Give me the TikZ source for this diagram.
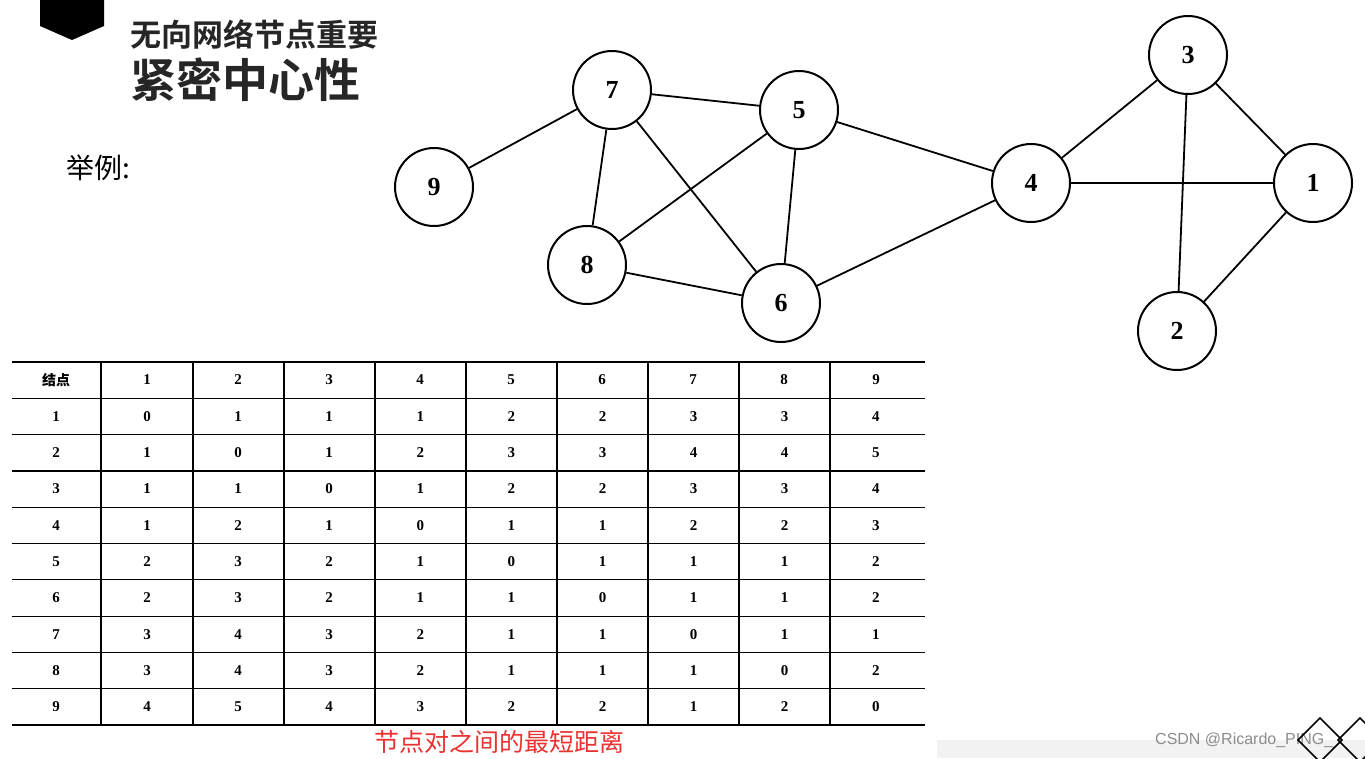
\documentclass[tikz,border=0pt]{standalone}
\usepackage{fontspec}
\setmainfont{Liberation Serif}
\newfontfamily\cjk{Noto Sans CJK SC}
\newfontfamily\cjkb{Noto Sans CJK SC Bold}
\newfontfamily\lsans{Liberation Sans}
\begin{document}
\begin{tikzpicture}[x=1pt,y=-1pt,
  vtx/.style={circle,draw,line width=2pt,minimum size=78pt,inner sep=0pt,font=\fontsize{26}{26}\selectfont\bfseries},
  edge/.style={line width=1.8pt},
  cell/.style={font=\fontsize{15}{15}\selectfont\bfseries}]
\useasboundingbox (0,0) rectangle (1365,758);
\fill[white] (0,0) rectangle (1365,758);
% header marker
\fill[black] (40,0) -- (104,0) -- (104,26) -- (72,40) -- (40,26) -- cycle;
\node[anchor=west,inner sep=0pt,text=black!85] (t1) at (130,35) {\cjkb\fontsize{31}{31}\selectfont 无向网络节点重要};
\node[anchor=west,inner sep=0pt,text=black!85] (t2) at (130,80) {\cjkb\fontsize{46}{46}\selectfont 紧密中心性};
\node[anchor=west,inner sep=0pt] (ex) at (66,168) {\cjk\fontsize{28}{28}\selectfont 举例:};
% graph
\node[vtx] (n7) at (612,90) {7};
\node[vtx] (n5) at (799,110) {5};
\node[vtx] (n9) at (434,187) {9};
\node[vtx] (n8) at (587,265) {8};
\node[vtx] (n6) at (781,303) {6};
\node[vtx] (n4) at (1031,183) {4};
\node[vtx] (n3) at (1188,55) {3};
\node[vtx] (n1) at (1313,183) {1};
\node[vtx] (n2) at (1177,331) {2};
\foreach \a/\b in {7/5,7/9,7/8,7/6,5/8,5/6,5/4,8/6,6/4,4/3,4/1,3/1,3/2,1/2}
  \draw[edge] (n\a) -- (n\b);
% table
\draw[line width=2pt] (12,362) -- (925,362);
\draw[line width=2pt] (12,725) -- (925,725);
\foreach \i in {1,...,9} \draw[line width=1.2pt] (12,362+36.3*\i) -- (925,362+36.3*\i);
\foreach \x in {101,193,284,375,466,557,648,739,830} \draw[line width=1.2pt] (\x,362) -- (\x,725);
\node[cell] (h0) at (56,380) {\cjkb\fontsize{14}{14}\selectfont 结点};
\foreach \c [count=\k from 1] in {147,238,329,420,511,602,693,784,876}
  \node[cell] (h\k) at (\c,380) {\k};
\foreach \r [count=\ri from 1] in {
 {1,0,1,1,1,2,2,3,3,4},{2,1,0,1,2,3,3,4,4,5},{3,1,1,0,1,2,2,3,3,4},{4,1,2,1,0,1,1,2,2,3},
 {5,2,3,2,1,0,1,1,1,2},{6,2,3,2,1,1,0,1,1,2},{7,3,4,3,2,1,1,0,1,1},{8,3,4,3,2,1,1,1,0,2},
 {9,4,5,4,3,2,2,1,2,0}}{
  \foreach \v [count=\ci from 0] in \r {
    \pgfmathsetmacro\cx{\ci==0 ? 56 : 147+91.1*(\ci-1)}
    \node[cell] (c\ri-\ci) at (\cx,380+36.3*\ri) {\v};
  }
}
\node[text={rgb,255:red,235;green,50;blue,50}] (cap) at (499,742) {\cjk\fontsize{25}{25}\selectfont 节点对之间的最短距离};
% footer
\fill[black!5] (937,740) rectangle (1365,758);
\node[anchor=west,text=black!45,inner sep=0pt] (wm) at (1155,740) {\lsans\fontsize{16}{16}\selectfont CSDN @Ricardo\_PING\_};
\draw[line width=1.5pt] (1320,718) -- (1342,740) -- (1320,762) -- (1298,740) -- cycle;
\draw[line width=1.5pt] (1360,718) -- (1382,740) -- (1360,762) -- (1338,740) -- cycle;
\end{tikzpicture}
\end{document}
